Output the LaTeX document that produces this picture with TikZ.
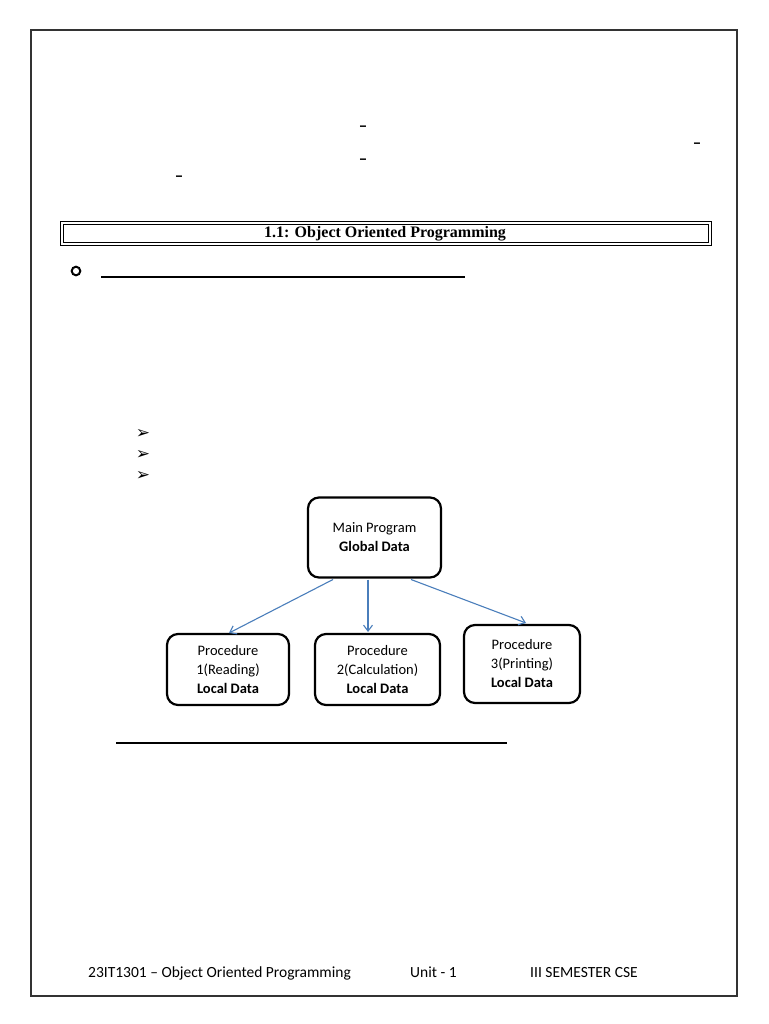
\documentclass[tikz,border=0pt]{standalone}
\usepackage{fontspec}
\setmainfont{Carlito}
\newfontfamily\headfont{Liberation Serif}
\newfontfamily\symfont{DejaVu Sans}
\usetikzlibrary{arrows.meta}
\definecolor{arrowblue}{HTML}{4A7EBB}
\tikzset{
  procbox/.style={draw, line width=2.2pt, rounded corners=11pt, align=center, font=\fontsize{14.5}{19}\selectfont},
  flow/.style={draw=arrowblue, line width=1.1pt, -{Straight Barb[length=6pt,width=9pt]}},
  body/.style={font=\fontsize{15.5}{18}\selectfont, inner sep=0pt},
  dashmark/.style={font=\bfseries\fontsize{17}{18}\selectfont, inner sep=0pt},
  arrowbullet/.style={font=\symfont\fontsize{17}{18}\selectfont, inner sep=0pt}
}
\begin{document}
\begin{tikzpicture}[x=1pt,y=-1pt]
\useasboundingbox (0,0) rectangle (768,1024);
% page border
\draw[line width=1.2pt, black!80] (31,30) rectangle (737,996);
% dashes
\node[dashmark] (d1) at (363,129) {–};
\node[dashmark] (d2) at (697,146) {–};
\node[dashmark] (d3) at (363,162) {–};
\node[dashmark] (d4) at (179,179) {–};
% heading box
\draw[double, double distance=1.6pt, line width=0.9pt] (62,223) rectangle (710,244);
\node[font=\headfont\bfseries\fontsize{16}{18}\selectfont, inner sep=0pt] (head) at (385,234) {1.1: Object Oriented Programming};
% circle bullet and underline
\draw[line width=2pt] (76,271) circle (4.3);
\draw[line width=2pt] (101,277) -- (465,277);
% arrow bullets
\node[arrowbullet] (b1) at (143,434) {➢};
\node[arrowbullet] (b2) at (143,455) {➢};
\node[arrowbullet] (b3) at (143,476) {➢};
% diagram
\node[procbox, minimum width=133pt, minimum height=80pt] (main) at (374.5,537.5) {Main Program\\\textbf{Global Data}};
\node[procbox, minimum width=122pt, minimum height=71pt] (p1) at (228,669.5) {Procedure\\1(Reading)\\\textbf{Local Data}};
\node[procbox, minimum width=125pt, minimum height=71pt] (p2) at (377.5,669.5) {Procedure\\2(Calculation)\\\textbf{Local Data}};
\node[procbox, minimum width=116pt, minimum height=78pt] (p3) at (522,664) {Procedure\\3(Printing)\\\textbf{Local Data}};
\coordinate (m1) at (333,579.5);
\coordinate (m2) at (368,579.5);
\coordinate (m3) at (411,579.5);
\coordinate (t1) at (229,633);
\coordinate (t2) at (368,632);
\coordinate (t3) at (526,623);
\draw[flow] (m1) -- (t1);
\draw[flow] (m2) -- (t2);
\draw[flow] (m3) -- (t3);
% bottom line
\draw[line width=1.4pt] (116,743) -- (507,743);
% footer
\node[body, anchor=base west] (f1) at (88,977) {23IT1301 – Object Oriented Programming};
\node[body, anchor=base west] (f2) at (410,977) {Unit - 1};
\node[body, anchor=base west] (f3) at (530,977) {III SEMESTER CSE};
\end{tikzpicture}
\end{document}
